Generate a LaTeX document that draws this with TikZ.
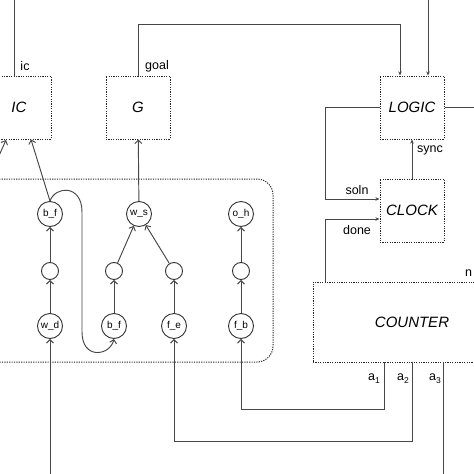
\documentclass[tikz,border=0pt]{standalone}
\usepackage{fontspec}
\setmainfont{Liberation Sans}
\usetikzlibrary{arrows.meta}
\newcommand{\subidx}[1]{\raisebox{-3pt}{\fontsize{8.5}{10}\selectfont #1}}
\begin{document}
\begin{tikzpicture}[x=1pt,y=-1pt,
  dotbox/.style={draw=black!85, line width=1pt, dash pattern=on 1.2pt off 1.2pt, inner sep=0pt,
    minimum width=64pt, minimum height=63pt, font=\fontsize{15}{18}\selectfont\itshape},
  wire/.style={draw=black!72, line width=0.95pt},
  arr/.style={wire, -{Straight Barb[length=3.5pt,width=7pt]}},
  sarr/.style={wire, -{Stealth[length=4pt,width=3.5pt]}},
  big/.style={circle, draw=black!80, line width=0.9pt, minimum size=25pt, inner sep=0pt, font=\fontsize{10}{12}\selectfont},
  small/.style={circle, draw=black!80, line width=0.9pt, minimum size=17pt, inner sep=0pt},
  lbl/.style={font=\fontsize{12.5}{15}\selectfont, inner sep=0pt}]
\useasboundingbox (0,0) rectangle (474,474);

% container
\draw[draw=black!85, line width=1pt, dash pattern=on 1.2pt off 1.2pt, rounded corners=16pt] (-30,179) rectangle (273,362);

% boxes
\node[dotbox] (IC) at (19,107.5) {IC};
\node[dotbox] (G) at (138,107.5) {G};
\node[dotbox] (LOGIC) at (412,107.5) {LOGIC};
\node[dotbox] (CLOCK) at (412,210.5) {CLOCK};
\node[dotbox, minimum width=198pt, minimum height=80pt] (COUNTER) at (412,322) {COUNTER};

% circle nodes
\node[big] (bf1) at (50,214) {b\_f};
\node[small] (s1) at (50,271) {};
\node[big] (wd) at (50,326) {w\_d};
\node[big] (ws) at (139,214) {w\_s};
\node[small] (s2) at (114,271) {};
\node[big] (bf2) at (114,326) {b\_f};
\node[small] (s3) at (174,271) {};
\node[big] (fe) at (174,326) {f\_e};
\node[big] (oh) at (241,214) {o\_h};
\node[small] (s4) at (241,271) {};
\node[big] (fb) at (241,326) {f\_b};

% coordinates
\coordinate (icTop) at (14,0);
\coordinate (icIn) at (31,0);
\coordinate (lIn) at (-2,158);
\coordinate (lInTip) at (6,140);
\coordinate (g1) at (138,24);
\coordinate (g2) at (400,24);
\coordinate (topIn) at (428,0);
\coordinate (rOut) at (474,107.5);
\coordinate (sol1) at (325,107.5);
\coordinate (sol2) at (325,199);
\coordinate (dn1) at (325,282);
\coordinate (dn2) at (325,219);
\coordinate (a1a) at (384,362);
\coordinate (a1b) at (384,409);
\coordinate (a1c) at (241,409);
\coordinate (a2a) at (412,362);
\coordinate (a2b) at (412,441);
\coordinate (a2c) at (174,441);
\coordinate (a3a) at (443,362);
\coordinate (a3b) at (443,474);
\coordinate (wdIn) at (50,474);

% top connections
\draw[wire] (IC.north -| icTop) -- (icTop);
\draw[sarr] (G.north) -- (g1) -- (g2) -- (LOGIC.north -| g2);
\draw[sarr] (topIn) -- (LOGIC.north -| topIn);
\draw[wire] (LOGIC.east) -- (rOut);
\draw[sarr] (LOGIC.west) -- (sol1) -- (sol2) -- (CLOCK.west |- sol2);
\draw[sarr] (CLOCK.north) -- (LOGIC.south);
\draw[sarr] (dn1) -- (dn2) -- (CLOCK.west |- dn2);

% counter outputs
\draw[arr] (a1a) -- (a1b) -- (a1c) -- (fb.south);
\draw[arr] (a2a) -- (a2b) -- (a2c) -- (fe.south);
\draw[wire] (a3a) -- (a3b);
\draw[arr] (wdIn) -- (wd.south);

% network arrows
\draw[arr] (wd) -- (s1);
\draw[arr] (s1) -- (bf1);
\draw[arr] (bf2) -- (s2);
\draw[arr] (s2) -- (ws);
\draw[arr] (fe) -- (s3);
\draw[arr] (s3) -- (ws);
\draw[arr] (fb) -- (s4);
\draw[arr] (s4) -- (oh);
\draw[arr] (ws) -- (G);
\draw[arr] (bf1.north) -- (IC.south -| icIn);
\draw[arr] (lIn) -- (lInTip);
\draw[arr] (bf1.north) .. controls (55,186) and (82,184) .. (82,212) -- (82,332) .. controls (82,360) and (110,356) .. (bf2.south);

% labels
\node[lbl] (Lic) at (25,66) {ic};
\node[lbl] (Lgoal) at (157,66) {goal};
\node[lbl] (Lsync) at (430,150) {sync};
\node[lbl] (Lsoln) at (357,190) {soln};
\node[lbl] (Ldone) at (357,230) {done};
\node[lbl, anchor=west] (Ln) at (465,273) {n};
\node[lbl] (La1) at (374,379) {a\subidx{1}};
\node[lbl] (La2) at (403,379) {a\subidx{2}};
\node[lbl] (La3) at (435,379) {a\subidx{3}};
\end{tikzpicture}
\end{document}
